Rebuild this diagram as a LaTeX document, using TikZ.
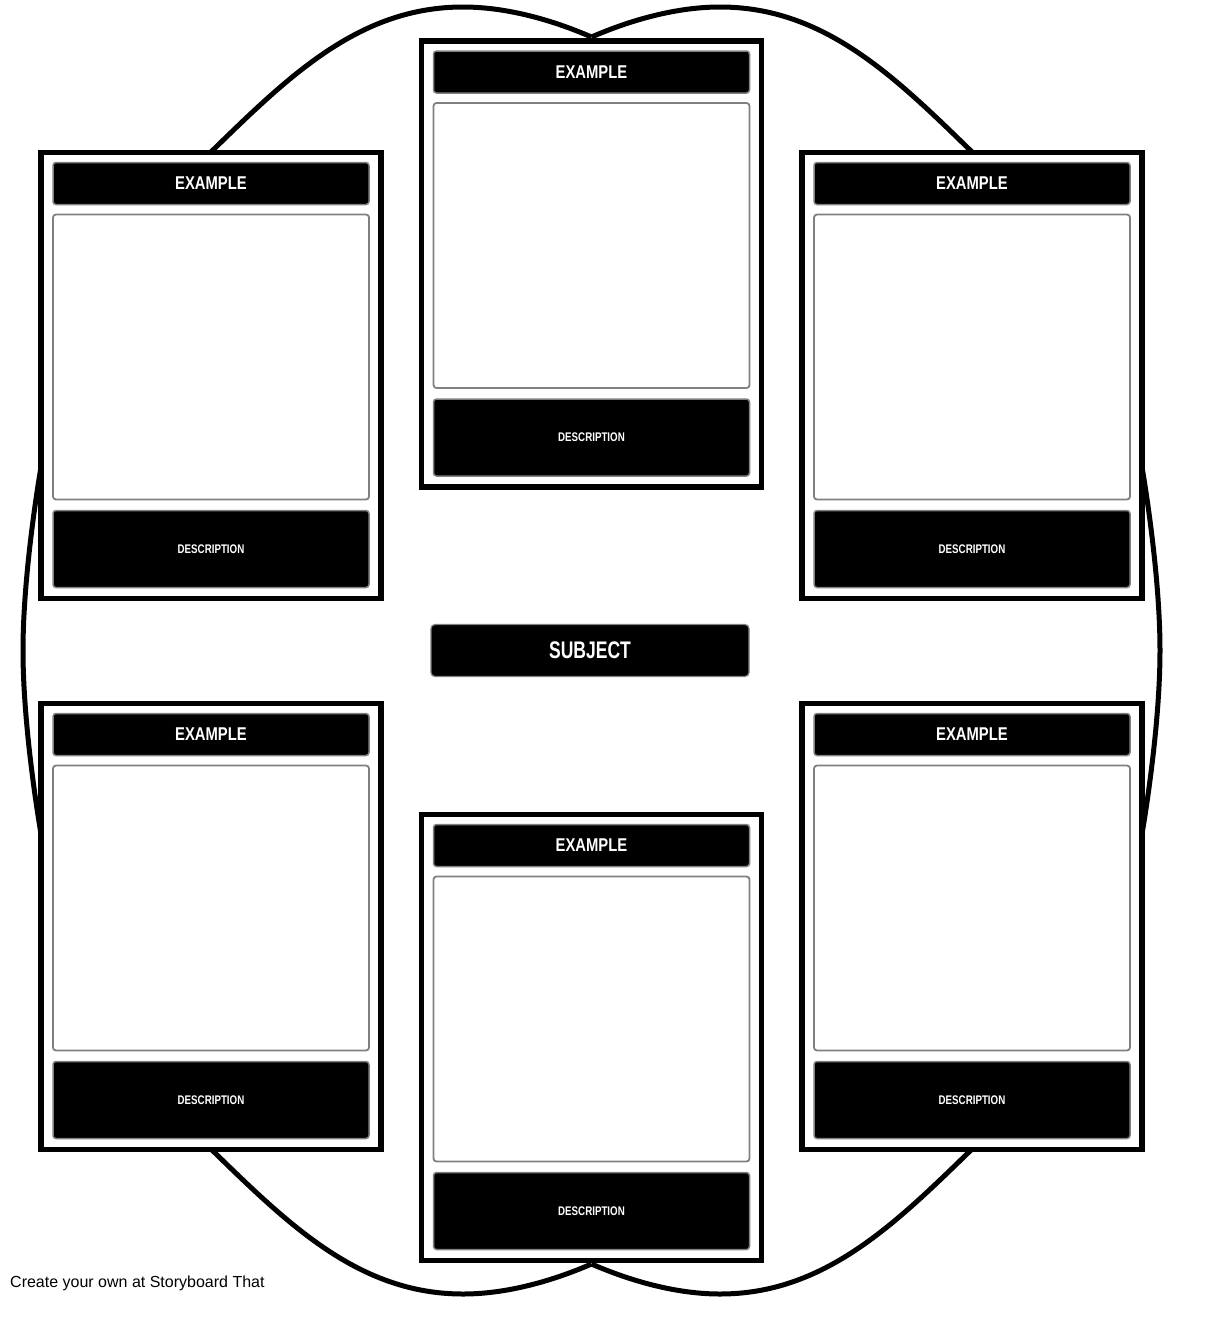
\documentclass[tikz,border=0pt]{standalone}
\usepackage{fontspec}
\setmainfont{Liberation Sans}
\newfontfamily\exfont[FakeStretch=0.8]{Liberation Sans}
\newfontfamily\subjfont[FakeStretch=0.73]{Liberation Sans}
\newfontfamily\descfont[FakeStretch=0.78]{Liberation Sans}
\definecolor{boxgray}{HTML}{808080}
\tikzset{
  lobe/.style={draw=black, line width=5pt},
  cardframe/.style={draw=black, line width=5.5pt, fill=white, minimum width=340pt, minimum height=446pt, inner sep=0pt, outer sep=0pt, anchor=north west},
  hdrbox/.style={draw=boxgray, line width=1.5pt, fill=black, rounded corners=3pt, minimum width=316pt, minimum height=42pt, inner sep=0pt, text=white, font=\exfont\bfseries\fontsize{18.5}{18.5}\selectfont},
  imgbox/.style={draw=boxgray, line width=1.8pt, fill=white, rounded corners=3pt, minimum width=316pt, minimum height=285pt, inner sep=0pt},
  descbox/.style={draw=boxgray, line width=1.5pt, fill=black, rounded corners=3pt, minimum width=316pt, minimum height=77pt, inner sep=0pt, text=white, font=\descfont\bfseries\fontsize{12.5}{12.5}\selectfont},
  subjbox/.style={draw=boxgray, line width=1.2pt, fill=black, rounded corners=4pt, minimum width=318pt, minimum height=52pt, inner sep=0pt, text=white, font=\subjfont\bfseries\fontsize{24}{24}\selectfont},
  captxt/.style={anchor=base west, inner sep=0pt, font=\fontsize{16}{16}\selectfont}
}
\newcommand\mycard[3]{%
  \node[cardframe] (#1) at (#2,#3) {};
  \node[hdrbox] (#1h) at ([shift={(170,31)}]#1.north west) {EXAMPLE};
  \node[imgbox] (#1i) at ([shift={(170,204.5)}]#1.north west) {};
  \node[descbox] (#1d) at ([shift={(170,396.5)}]#1.north west) {DESCRIPTION};
}
\begin{document}
\begin{tikzpicture}[x=1pt,y=-1pt]
\useasboundingbox (0,0) rectangle (1215,1323);
\fill[white] (0,0) rectangle (1215,1323);
% junction points of the two lobes
\coordinate (jtop) at (591.5,37);
\coordinate (jbot) at (591.5,1264);
% left lobe outline
\draw[lobe] (jtop) .. controls (550,19) and (505,7) .. (463,7)
  .. controls (360,7) and (290,75) .. (213,150)
  .. controls (160,202) and (52,400) .. (40,473)
  .. controls (33,516) and (23,590) .. (23,650.5)
  .. controls (23,711) and (33,785) .. (40,828)
  .. controls (52,901) and (160,1099) .. (213,1151)
  .. controls (290,1226) and (360,1294) .. (463,1294)
  .. controls (505,1294) and (550,1282) .. (jbot);
% right lobe outline
\draw[lobe] (jtop) .. controls (633,19) and (678,7) .. (720,7)
  .. controls (823,7) and (893,75) .. (970,150)
  .. controls (1023,202) and (1131,400) .. (1143,473)
  .. controls (1150,516) and (1160,590) .. (1160,650.5)
  .. controls (1160,711) and (1150,785) .. (1143,828)
  .. controls (1131,901) and (1023,1099) .. (970,1151)
  .. controls (893,1226) and (823,1294) .. (720,1294)
  .. controls (678,1294) and (633,1282) .. (jbot);
% cards
\mycard{tl}{41}{152.5}
\mycard{tc}{421.5}{41}
\mycard{tr}{802}{152.5}
\mycard{bl}{41}{703.5}
\mycard{bc}{421.5}{814.5}
\mycard{br}{802}{703.5}
% subject
\node[subjbox] (subj) at (590,650.5) {SUBJECT};
% caption
\node[captxt] (cap) at (10,1287) {Create your own at Storyboard That};
\end{tikzpicture}
\end{document}
